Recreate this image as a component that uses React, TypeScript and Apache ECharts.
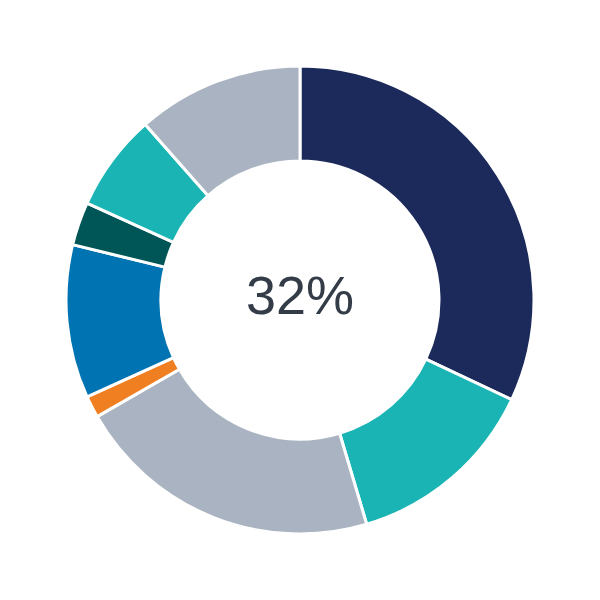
import React, { useEffect, useRef } from "react";
import * as echarts from "echarts";

const categories = ["A", "B", "C", "D", "E", "F", "G", "H"];
const values = [32, 13.4, 21.3, 1.5, 10.6, 3.0, 6.7, 11.5];
const colors = ["#1b2a5a", "#1ab4b4", "#a9b3c1", "#f07f22", "#0074b2", "#005656", "#1ab4b4", "#a9b3c1"];
const centerLabel = "32%";

export default function App() {
  const ref = useRef<HTMLDivElement>(null);
  useEffect(() => {
    const chart = echarts.init(ref.current!, null, { renderer: "svg" });
    chart.setOption({
      animation: false,
      graphic: [
        {
          type: "text",
          left: "center",
          top: 268,
          style: {
            text: centerLabel,
            fontSize: 54,
            fontFamily: "Liberation Sans, Arial, sans-serif",
            fill: "#333c47",
          },
        },
      ],
      series: [
        {
          type: "pie",
          center: [300, 300],
          radius: [139, 234],
          startAngle: 90,
          clockwise: true,
          label: { show: false },
          labelLine: { show: false },
          itemStyle: { borderColor: "#ffffff", borderWidth: 3 },
          emphasis: { disabled: true },
          data: categories.map((c, i) => ({
            name: c,
            value: values[i],
            itemStyle: { color: colors[i] },
          })),
        },
      ],
    });
    return () => chart.dispose();
  }, []);
  return <div ref={ref} style={{ width: 600, height: 600, position: "absolute", left: 0, top: 0 }} />;
}
